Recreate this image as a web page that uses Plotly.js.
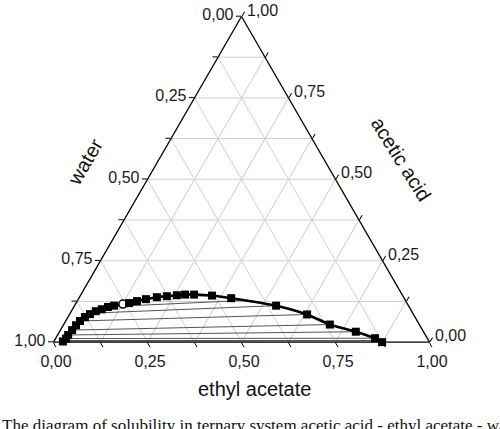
<!DOCTYPE html>
<html>
<head>
<meta charset="utf-8">
<script src="https://cdn.plot.ly/plotly-3.0.1.min.js"></script>
<style>html,body{margin:0;padding:0;background:#fff;}#chart{width:500px;height:429px;}</style>
</head>
<body>
<div id="chart"></div>
<script>
// Binodal (solubility) curve: mass fractions
const aceticAcid   = [0.002,0.011,0.022,0.037,0.052,0.065,0.077,0.086,0.095,0.101,0.108,0.112,0.117,0.120,0.126,0.132,0.138,0.141,0.144,0.146,0.146,0.143,0.135,0.112,0.085,0.054,0.032,0.012,0.000];
const ethylAcetate = [0.024,0.028,0.028,0.031,0.034,0.038,0.045,0.054,0.065,0.078,0.091,0.105,0.126,0.141,0.159,0.180,0.206,0.231,0.256,0.277,0.301,0.350,0.405,0.536,0.632,0.708,0.788,0.849,0.874];
const water        = [0.974,0.961,0.950,0.932,0.914,0.897,0.878,0.860,0.840,0.821,0.801,0.783,0.757,0.739,0.715,0.688,0.656,0.628,0.600,0.577,0.553,0.507,0.460,0.352,0.283,0.238,0.180,0.139,0.126];
const plaitIndex = 12; // open circle on the curve

// Tie lines: left (water-rich) and right (ester-rich) ends
const tieAceticL = [0.109,0.089,0.065,0.037,0.022,0.011,0.005,0.001];
const tieEthylL  = [0.096,0.058,0.038,0.031,0.028,0.027,0.026,0.025];
const tieWaterL  = [0.795,0.853,0.897,0.932,0.950,0.962,0.969,0.974];
const tieAceticR = [0.128,0.112,0.085,0.054,0.032,0.012,0.005,0.000];
const tieEthylR  = [0.445,0.536,0.632,0.708,0.788,0.849,0.863,0.874];
const tieWaterR  = [0.427,0.352,0.283,0.238,0.180,0.139,0.132,0.126];

// Axis ticks (each edge is labelled with the complementary component)
const tickValues = [0,0.125,0.25,0.375,0.5,0.625,0.75,0.875,1];
const tickLabels = ['1,00','','0,75','','0,50','','0,25','','0,00'];

const axisTitles = {water: 'water', acetic: 'acetic acid', ester: 'ethyl acetate'};
const caption = 'The diagram of solubility in ternary system acetic acid - ethyl acetate - water';

const traces = [];
for (let i = 0; i < tieAceticL.length; i++) {
  traces.push({
    type: 'scatterternary', mode: 'lines',
    a: [tieAceticL[i], tieAceticR[i]],
    b: [tieWaterL[i], tieWaterR[i]],
    c: [tieEthylL[i], tieEthylR[i]],
    line: {color: '#555555', width: 1},
    cliponaxis: false, hoverinfo: 'skip', showlegend: false
  });
}
traces.push({
  type: 'scatterternary', mode: 'lines+markers',
  a: aceticAcid, b: water, c: ethylAcetate,
  line: {color: '#000000', width: 2.6, shape: 'spline', smoothing: 0.6},
  marker: {
    symbol: aceticAcid.map((_, i) => i === plaitIndex ? 'circle' : 'square'),
    size: 8,
    color: aceticAcid.map((_, i) => i === plaitIndex ? '#ffffff' : '#000000'),
    line: {color: '#000000', width: aceticAcid.map((_, i) => i === plaitIndex ? 1.5 : 0)}
  },
  cliponaxis: false, showlegend: false
});

const axisStyle = {
  title: {text: ''},
  tickmode: 'array', tickvals: tickValues, ticktext: tickLabels,
  ticks: 'outside', ticklen: 5, tickwidth: 1, tickcolor: '#000',
  tickfont: {family: 'Liberation Sans, Arial, sans-serif', size: 16, color: '#1a1a1a'},
  showline: true, linecolor: '#000', linewidth: 1.3,
  showgrid: true, gridcolor: '#d0d0d0', gridwidth: 1,
  min: 0
};

const sansFont = 'Liberation Sans, Arial, sans-serif';
const layout = {
  width: 500, height: 429,
  margin: {l: 0, r: 0, t: 0, b: 0},
  paper_bgcolor: '#fff',
  showlegend: false,
  ternary: {
    domain: {x: [0.107, 0.859], y: [0.197, 0.967]},
    sum: 1,
    bgcolor: '#fff',
    aaxis: Object.assign({}, axisStyle),
    baxis: Object.assign({}, axisStyle),
    caxis: Object.assign({}, axisStyle)
  },
  annotations: [
    {text: axisTitles.water, xref: 'paper', yref: 'paper', x: 0.170, y: 0.6224, xanchor: 'center', yanchor: 'middle', textangle: -60, showarrow: false, font: {family: sansFont, size: 20, color: '#111'}},
    {text: axisTitles.acetic, xref: 'paper', yref: 'paper', x: 0.802, y: 0.6294, xanchor: 'center', yanchor: 'middle', textangle: 58, showarrow: false, font: {family: sansFont, size: 20, color: '#111'}},
    {text: axisTitles.ester, xref: 'paper', yref: 'paper', x: 0.508, y: 0.0932, xanchor: 'center', yanchor: 'middle', showarrow: false, font: {family: sansFont, size: 20, color: '#111'}},
    {text: caption, xref: 'paper', yref: 'paper', x: 0, y: 0.034, xanchor: 'left', yanchor: 'top', showarrow: false, font: {family: 'Liberation Serif, Times New Roman, serif', size: 17, color: '#111'}}
  ]
};

Plotly.newPlot('chart', traces, layout, {staticPlot: true, displayModeBar: false});
</script>
</body>
</html>
